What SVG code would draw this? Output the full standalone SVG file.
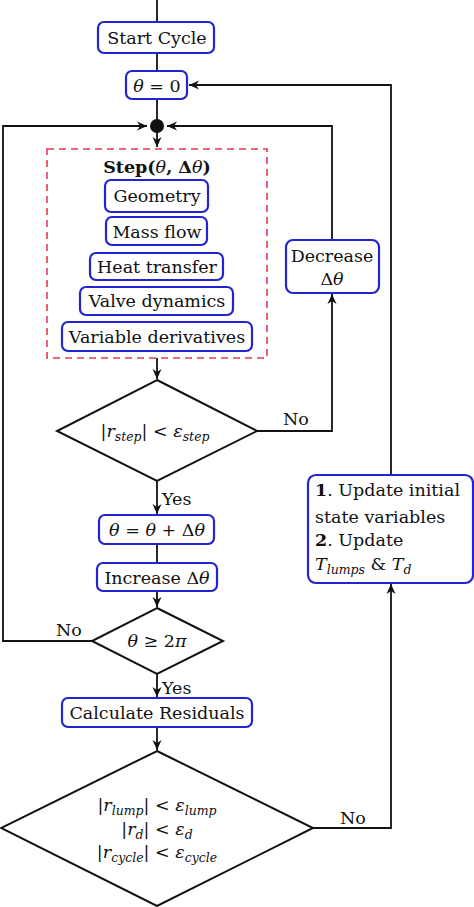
<svg xmlns="http://www.w3.org/2000/svg" width="474" height="907" viewBox="0 0 474 907">
<style>
text{font-family:'DejaVu Serif','Liberation Serif',serif;font-size:17.5px;fill:#111}
.c{text-anchor:middle}
.box{fill:#fff;stroke:#2323d2;stroke-width:2.2}
.dia{fill:#fff;stroke:#111;stroke-width:2}
.ln{fill:none;stroke:#111;stroke-width:1.8}
.ar{fill:none;stroke:#111;stroke-width:1.8;marker-end:url(#ah)}
.i{font-style:italic}
.s{font-style:italic;font-size:12.5px}
</style>
<defs>
<marker id="ah" markerUnits="userSpaceOnUse" markerWidth="14" markerHeight="12" viewBox="-11 -6 12 12" refX="0" refY="0" orient="auto">
<path d="M0,0 L-10,-4.5 L-7,0 L-10,4.5 Z" fill="#111"/>
</marker>
</defs>
<g id="connectors">
<path class="ln" d="M157,0 V22"/>
<path class="ln" d="M157,53 V71"/>
<path class="ln" d="M157,99 V126"/>
<path class="ar" d="M157,126 V147"/>
<path class="ar" d="M92,641 H3 V126 H147"/>
<path class="ar" d="M332,240 V126 H167"/>
<path class="ar" d="M391,475 V85 H189"/>
<path class="ar" d="M157,358 V379"/>
<path class="ar" d="M257,431 H332 V294"/>
<path class="ar" d="M157,480 V514"/>
<path class="ln" d="M157,544 V563"/>
<path class="ar" d="M157,591 V607"/>
<path class="ar" d="M157,673 V697"/>
<path class="ar" d="M157,727 V750"/>
<path class="ar" d="M313,828 H391 V584"/>
<text x="283" y="425">No</text>
<text x="162" y="505">Yes</text>
<text x="56" y="636">No</text>
<text x="162" y="694">Yes</text>
<text x="340" y="824">No</text>
</g>
<g id="junction"><circle cx="157" cy="126" r="7" fill="#111"/></g>
<g id="start"><rect class="box" x="98" y="22" width="116" height="31" rx="6"/><text class="c" x="157" y="44">Start Cycle</text></g>
<g id="theta0"><rect class="box" x="126" y="71" width="61" height="28" rx="6"/><text class="c" x="157" y="92"><tspan class="i">θ</tspan> = 0</text></g>
<g id="step">
<rect x="47" y="149" width="220" height="209" fill="none" stroke="#e5394f" stroke-width="1.6" stroke-dasharray="7,5"/>
<text class="c" x="157" y="173" font-weight="bold">Step(<tspan class="i" font-weight="normal">θ</tspan>, Δ<tspan class="i" font-weight="normal">θ</tspan>)</text>
</g>
<g id="geometry"><rect class="box" x="105" y="180" width="103" height="32" rx="6"/><text class="c" x="157" y="202">Geometry</text></g>
<g id="massflow"><rect class="box" x="106" y="217" width="101" height="28" rx="6"/><text class="c" x="157" y="238">Mass flow</text></g>
<g id="heat"><rect class="box" x="90" y="253" width="133" height="27" rx="6"/><text class="c" x="157" y="273">Heat transfer</text></g>
<g id="valve"><rect class="box" x="80" y="287" width="153" height="28" rx="6"/><text class="c" x="157" y="307">Valve dynamics</text></g>
<g id="varder"><rect class="box" x="62" y="322" width="190" height="29" rx="6"/><text class="c" x="157" y="343">Variable derivatives</text></g>
<g id="decrease"><rect class="box" x="286" y="240" width="93" height="53" rx="7"/><text class="c" x="332" y="262">Decrease</text><text class="c" x="332" y="285">Δ<tspan class="i">θ</tspan></text></g>
<g id="check-step"><polygon class="dia" points="157,380 257,431 157,481 57,431"/>
<text class="c" x="155" y="437">|<tspan class="i">r</tspan><tspan class="s" dy="4">step</tspan><tspan dy="-4">| &lt; </tspan><tspan class="i">ε</tspan><tspan class="s" dy="4">step</tspan></text></g>
<g id="update-theta"><rect class="box" x="99" y="515" width="115" height="29" rx="6"/><text class="c" x="157" y="536"><tspan class="i">θ</tspan> = <tspan class="i">θ</tspan> + Δ<tspan class="i">θ</tspan></text></g>
<g id="increase"><rect class="box" x="97" y="563" width="120" height="28" rx="6"/><text class="c" x="157" y="584">Increase Δ<tspan class="i">θ</tspan></text></g>
<g id="check-cycle"><polygon class="dia" points="157,608 223,641 157,674 92,641"/><text class="c" x="157" y="647"><tspan class="i">θ</tspan> ≥ 2<tspan class="i">π</tspan></text></g>
<g id="residuals"><rect class="box" x="62" y="698" width="190" height="29" rx="6"/><text class="c" x="157" y="719">Calculate Residuals</text></g>
<g id="check-conv"><polygon class="dia" points="157,751 313,828 157,906 1,828"/>
<text class="c" x="157" y="811">|<tspan class="i">r</tspan><tspan class="s" dy="4">lump</tspan><tspan dy="-4">| &lt; </tspan><tspan class="i">ε</tspan><tspan class="s" dy="4">lump</tspan></text>
<text class="c" x="157" y="835">|<tspan class="i">r</tspan><tspan class="s" dy="4">d</tspan><tspan dy="-4">| &lt; </tspan><tspan class="i">ε</tspan><tspan class="s" dy="4">d</tspan></text>
<text class="c" x="157" y="858">|<tspan class="i">r</tspan><tspan class="s" dy="4">cycle</tspan><tspan dy="-4">| &lt; </tspan><tspan class="i">ε</tspan><tspan class="s" dy="4">cycle</tspan></text></g>
<g id="update"><rect class="box" x="308" y="475" width="165" height="108" rx="8"/>
<text x="315" y="496"><tspan font-weight="bold">1</tspan>. Update initial</text>
<text x="315" y="523">state variables</text>
<text x="315" y="546"><tspan font-weight="bold">2</tspan>. Update</text>
<text x="315" y="570"><tspan class="i">T</tspan><tspan class="s" dy="4">lumps</tspan><tspan dy="-4"> &amp; </tspan><tspan class="i">T</tspan><tspan class="s" dy="4">d</tspan></text></g>
</svg>
